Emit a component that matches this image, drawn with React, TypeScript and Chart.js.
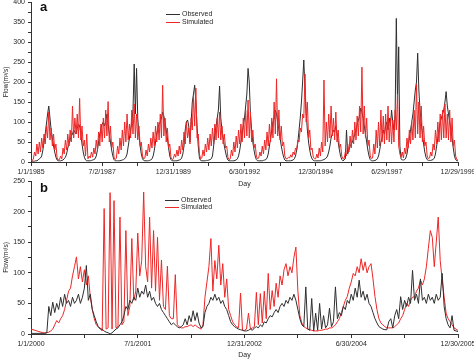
import React, { useEffect, useRef } from "react";
import { Chart, registerables } from "chart.js";

Chart.register(...registerables);

// ---------- Panel a: 1985-1999, semi-monthly readings (24 per year) ----------
const yearsA = [1985, 1986, 1987, 1988, 1989, 1990, 1991, 1992, 1993, 1994, 1995, 1996, 1997, 1998, 1999];
const observedA = [
  [2, 2, 2, 2, 3, 3, 5, 8, 10, 15, 30, 50, 70, 95, 120, 140, 110, 80, 60, 40, 25, 12, 5, 3],
  [3, 3, 4, 5, 8, 12, 20, 35, 45, 55, 65, 70, 80, 75, 70, 85, 95, 90, 70, 45, 25, 12, 5, 3],
  [3, 3, 3, 4, 5, 6, 8, 15, 30, 50, 70, 85, 95, 100, 90, 100, 120, 95, 70, 50, 30, 15, 6, 3],
  [3, 3, 3, 3, 4, 5, 6, 8, 12, 20, 40, 60, 80, 100, 130, 245, 120, 234, 110, 70, 40, 20, 8, 4],
  [3, 3, 3, 3, 4, 5, 8, 15, 30, 50, 70, 85, 95, 100, 110, 125, 115, 100, 80, 60, 35, 15, 6, 3],
  [3, 3, 3, 3, 4, 5, 6, 10, 20, 40, 80, 100, 105, 90, 50, 100, 150, 170, 192, 150, 90, 40, 10, 4],
  [3, 3, 3, 3, 4, 4, 5, 6, 8, 15, 40, 70, 90, 110, 130, 190, 110, 80, 60, 40, 25, 12, 5, 3],
  [3, 3, 3, 3, 4, 5, 8, 15, 30, 50, 70, 90, 110, 140, 170, 234, 200, 120, 80, 50, 30, 15, 6, 3],
  [3, 3, 3, 3, 4, 5, 6, 10, 20, 40, 60, 80, 100, 110, 130, 120, 100, 80, 60, 40, 25, 12, 5, 3],
  [3, 3, 3, 3, 4, 5, 8, 15, 30, 50, 80, 110, 150, 200, 255, 180, 120, 80, 50, 30, 15, 8, 4, 3],
  [3, 3, 3, 3, 3, 4, 5, 6, 8, 10, 15, 25, 40, 60, 70, 80, 75, 90, 70, 50, 30, 15, 6, 3],
  [5, 8, 80, 20, 30, 40, 45, 50, 60, 70, 80, 95, 105, 115, 135, 125, 110, 90, 70, 50, 30, 15, 6, 3],
  [3, 3, 4, 5, 8, 15, 30, 50, 60, 80, 70, 90, 100, 80, 110, 90, 130, 100, 80, 120, 359, 150, 288, 40],
  [8, 5, 5, 6, 10, 20, 40, 60, 80, 100, 120, 150, 180, 200, 272, 180, 130, 100, 70, 45, 25, 12, 6, 4],
  [4, 4, 5, 6, 10, 20, 40, 60, 80, 100, 110, 120, 130, 150, 176, 140, 120, 100, 80, 60, 35, 15, 6, 3],
];
const simulatedA = [
  [4, 3, 8, 25, 15, 45, 20, 50, 25, 60, 35, 70, 45, 90, 60, 125, 55, 85, 40, 70, 30, 45, 10, 5],
  [6, 15, 8, 35, 20, 55, 30, 70, 40, 80, 50, 140, 60, 110, 70, 120, 60, 159, 55, 90, 40, 55, 15, 70],
  [8, 15, 10, 25, 12, 35, 20, 55, 30, 75, 40, 95, 50, 110, 60, 130, 65, 151, 50, 90, 35, 50, 12, 6],
  [10, 40, 20, 60, 30, 80, 40, 100, 50, 120, 55, 95, 60, 130, 70, 145, 60, 120, 55, 90, 40, 50, 15, 8],
  [10, 30, 15, 45, 25, 60, 35, 75, 40, 90, 50, 100, 55, 120, 60, 192, 65, 110, 50, 85, 35, 45, 12, 6],
  [8, 20, 12, 30, 15, 40, 20, 55, 30, 75, 45, 100, 60, 85, 45, 110, 80, 165, 90, 185, 60, 70, 20, 8],
  [10, 30, 15, 45, 25, 60, 30, 70, 40, 85, 45, 95, 55, 110, 60, 125, 55, 90, 45, 70, 35, 40, 12, 6],
  [8, 30, 15, 50, 25, 65, 35, 80, 45, 95, 50, 110, 60, 130, 65, 155, 60, 125, 50, 80, 35, 45, 15, 8],
  [10, 25, 15, 40, 20, 55, 30, 75, 40, 95, 50, 110, 60, 150, 70, 208, 65, 130, 55, 90, 40, 50, 15, 8],
  [8, 12, 10, 18, 12, 25, 18, 35, 30, 55, 50, 85, 75, 120, 110, 220, 100, 150, 60, 80, 30, 35, 12, 8],
  [8, 20, 10, 35, 15, 50, 25, 205, 40, 100, 50, 120, 60, 140, 65, 110, 55, 125, 50, 80, 35, 45, 15, 8],
  [8, 25, 15, 45, 25, 65, 35, 80, 45, 100, 55, 115, 65, 140, 75, 237, 70, 140, 60, 110, 40, 55, 15, 8],
  [10, 45, 20, 80, 35, 100, 40, 130, 50, 115, 45, 120, 55, 140, 50, 110, 45, 105, 50, 130, 80, 170, 40, 20],
  [12, 25, 10, 35, 20, 60, 35, 80, 45, 100, 55, 130, 60, 195, 70, 150, 60, 140, 50, 90, 40, 50, 15, 8],
  [10, 25, 15, 45, 30, 80, 45, 100, 50, 120, 55, 130, 60, 145, 60, 120, 55, 130, 50, 110, 40, 55, 15, 6],
];
const observedAEnd = 3;
const simulatedAEnd = 5;
const xLabelsA = ["1/1/1985", "7/2/1987", "12/31/1989", "6/30/1992", "12/30/1994", "6/29/1997", "12/29/1999"];
const yTicksA = [0, 50, 100, 150, 200, 250, 300, 350, 400];

// ---------- Panel b: 2000-2005, ~10-day readings (36 per year) ----------
const yearsB = [2000, 2001, 2002, 2003, 2004, 2005];
const observedB = [
  [1, 1, 1, 1, 1, 1, 1, 1, 2, 45, 30, 52, 35, 50, 40, 60, 45, 65, 50, 55, 45, 60, 50, 55, 65, 50, 60, 75, 112, 55, 65, 40, 30, 20, 12, 8],
  [8, 5, 3, 2, 0, 2, 5, 8, 10, 15, 20, 30, 45, 40, 55, 50, 60, 55, 75, 60, 70, 65, 80, 60, 70, 55, 60, 50, 45, 50, 40, 35, 30, 25, 20, 15],
  [18, 15, 12, 10, 12, 15, 25, 15, 30, 20, 38, 22, 35, 18, 10, 12, 35, 45, 50, 60, 55, 65, 55, 60, 50, 55, 45, 40, 30, 20, 15, 12, 10, 8, 7, 6],
  [5, 5, 6, 8, 6, 10, 12, 10, 15, 12, 20, 18, 25, 30, 28, 35, 40, 35, 45, 50, 45, 55, 50, 60, 55, 65, 55, 40, 25, 15, 12, 77, 8, 6, 58, 5],
  [34, 6, 50, 8, 30, 10, 15, 42, 12, 20, 77, 25, 35, 30, 45, 40, 55, 50, 65, 55, 75, 60, 88, 60, 70, 55, 65, 50, 45, 35, 25, 18, 12, 10, 8, 7],
  [7, 20, 25, 10, 30, 40, 25, 61, 40, 55, 45, 60, 50, 104, 55, 65, 50, 90, 55, 60, 50, 65, 55, 60, 50, 65, 55, 60, 99, 45, 25, 15, 10, 30, 6, 5],
];
const simulatedB = [
  [8, 7, 6, 5, 4, 3, 2, 2, 2, 3, 5, 8, 15, 22, 18, 25, 30, 40, 55, 70, 75, 95, 110, 126, 90, 110, 85, 105, 80, 95, 60, 40, 25, 15, 12, 10],
  [5, 205, 8, 10, 231, 8, 218, 10, 12, 191, 15, 20, 169, 30, 45, 156, 55, 70, 165, 95, 120, 232, 110, 85, 191, 75, 169, 70, 158, 55, 121, 45, 40, 111, 30, 25],
  [25, 97, 15, 12, 10, 10, 12, 12, 14, 15, 12, 15, 12, 10, 8, 15, 60, 85, 110, 156, 70, 120, 90, 145, 80, 115, 60, 90, 40, 30, 20, 15, 12, 10, 67, 6],
  [6, 8, 34, 8, 10, 12, 68, 15, 66, 18, 70, 25, 99, 40, 71, 45, 83, 60, 95, 80, 105, 115, 95, 110, 100, 125, 142, 70, 30, 18, 12, 10, 8, 7, 6, 5],
  [5, 5, 6, 6, 7, 8, 8, 10, 10, 12, 15, 20, 25, 35, 45, 55, 61, 75, 85, 99, 95, 110, 100, 123, 104, 118, 100, 110, 115, 90, 61, 40, 25, 18, 15, 12],
  [10, 10, 10, 10, 12, 15, 18, 25, 30, 40, 50, 45, 55, 60, 61, 70, 75, 88, 80, 90, 110, 140, 169, 158, 110, 150, 191, 120, 88, 60, 34, 25, 20, 15, 10, 8],
];
const observedBEnd = 4;
const simulatedBEnd = 6;
const xLabelsB = ["1/1/2000", "7/1/2001", "12/31/2002", "6/30/2004", "12/30/2005"];
const yTicksB = [0, 50, 100, 150, 200, 250];

const seriesNames = ["Observed", "Simulated"];
const OBS_COLOR = "#2e2e2e";
const SIM_COLOR = "#ee2626";
const FONT = "'Liberation Sans', Arial, sans-serif";
const TEXT = "#262626";

type Pt = { x: number; y: number };
function toPoints(rows: number[][], perYear: number, endValue: number): Pt[] {
  const pts: Pt[] = [];
  rows.forEach((row, yi) => row.forEach((v, i) => pts.push({ x: yi + i / perYear, y: v })));
  pts.push({ x: rows.length, y: endValue });
  return pts;
}

type PanelCfg = {
  years: number[];
  obs: number[][];
  sim: number[][];
  obsEnd: number;
  simEnd: number;
  perYear: number;
  xLabels: string[];
  yTicks: number[];
  letter: string;
  letterY: number;
  legendX: number;
  legendY: number;
  legendGap: number;
  padTop: number;
  xHeight: number;
  dayPad: number;
  simOnTop: boolean;
};

function Panel({ cfg, top, height }: { cfg: PanelCfg; top: number; height: number }) {
  const ref = useRef<HTMLCanvasElement>(null);
  useEffect(() => {
    const canvas = ref.current!;
    const nYears = cfg.years.length;
    const majorStep = nYears / (cfg.xLabels.length - 1);
    const yMax = cfg.yTicks[cfg.yTicks.length - 1];
    const overlay = {
      id: "overlay" + cfg.letter,
      afterDraw(chart: any) {
        const ctx = chart.ctx as CanvasRenderingContext2D;
        ctx.save();
        ctx.fillStyle = "#111";
        ctx.font = `bold 13px ${FONT}`;
        ctx.textBaseline = "alphabetic";
        ctx.textAlign = "left";
        ctx.fillText(cfg.letter, chart.chartArea.left + 9, cfg.letterY);
        const colors = [OBS_COLOR, SIM_COLOR];
        ctx.font = `7px ${FONT}`;
        ctx.textBaseline = "middle";
        seriesNames.forEach((name, k) => {
          const y = cfg.legendY + k * cfg.legendGap;
          ctx.strokeStyle = colors[k];
          ctx.lineWidth = 1;
          ctx.beginPath();
          ctx.moveTo(cfg.legendX, y + 0.5);
          ctx.lineTo(cfg.legendX + 14, y + 0.5);
          ctx.stroke();
          ctx.fillStyle = TEXT;
          ctx.fillText(name, cfg.legendX + 16, y + 0.5);
        });
        ctx.restore();
      },
    };
    const obsDs = {
      label: seriesNames[0],
      data: toPoints(cfg.obs, cfg.perYear, cfg.obsEnd),
      borderColor: OBS_COLOR,
      borderWidth: 1,
      pointRadius: 0,
      order: cfg.simOnTop ? 1 : 0,
    };
    const simDs = {
      label: seriesNames[1],
      data: toPoints(cfg.sim, cfg.perYear, cfg.simEnd),
      borderColor: SIM_COLOR,
      borderWidth: 1,
      pointRadius: 0,
      order: cfg.simOnTop ? 0 : 1,
    };
    const chart = new Chart(canvas, {
      type: "line",
      data: { datasets: [obsDs, simDs] as any },
      options: {
        animation: false,
        responsive: false,
        maintainAspectRatio: false,
        layout: { padding: { top: cfg.padTop, right: 16, left: 0, bottom: 0 } },
        plugins: { legend: { display: false }, tooltip: { enabled: false } },
        elements: { line: { tension: 0 } },
        scales: {
          x: {
            type: "linear",
            min: 0,
            max: nYears,
            border: { display: true, color: "#333", width: 1 },
            grid: { drawOnChartArea: false, drawTicks: true, tickLength: 4, color: "#333" },
            afterBuildTicks: (scale: any) => {
              const t = [];
              const n = (cfg.xLabels.length - 1) * 2;
              for (let k = 0; k <= n; k++) t.push({ value: (k * majorStep) / 2 });
              scale.ticks = t;
            },
            afterFit: (scale: any) => {
              scale.height = cfg.xHeight;
              scale.paddingLeft = 0;
              scale.paddingRight = 0;
            },
            ticks: {
              autoSkip: false,
              maxRotation: 0,
              minRotation: 0,
              padding: 2,
              color: TEXT,
              font: { size: 7, family: FONT },
              callback: (_v: any, i: number) => (i % 2 === 0 ? cfg.xLabels[i / 2] : ""),
            },
            title: {
              display: true,
              text: "Day",
              color: TEXT,
              font: { size: 7, family: FONT },
              padding: { top: 0, bottom: cfg.dayPad },
            },
          },
          y: {
            type: "linear",
            min: 0,
            max: yMax,
            border: { display: true, color: "#333", width: 1 },
            grid: { drawOnChartArea: false, drawTicks: true, tickLength: 3, color: "#333" },
            afterBuildTicks: (scale: any) => {
              const t = [];
              for (let v = 0; v <= yMax; v += 25) t.push({ value: v });
              scale.ticks = t;
            },
            afterFit: (scale: any) => {
              scale.width = 31;
              scale.paddingTop = 0;
              scale.paddingBottom = 0;
            },
            ticks: {
              autoSkip: false,
              padding: 3,
              color: TEXT,
              font: { size: 7, family: FONT },
              callback: (v: any) => (cfg.yTicks.includes(v) ? String(v) : ""),
            },
            title: {
              display: true,
              text: "Flow(m³/s)",
              color: TEXT,
              font: { size: 6.5, family: FONT },
              padding: { top: 2, bottom: 0 },
            },
          },
        },
      },
      plugins: [overlay],
    } as any);
    return () => chart.destroy();
  }, [cfg]);
  return (
    <canvas
      ref={ref}
      width={474}
      height={height}
      style={{ position: "absolute", left: 0, top, width: 474, height }}
    />
  );
}

const cfgA: PanelCfg = {
  years: yearsA,
  obs: observedA,
  sim: simulatedA,
  obsEnd: observedAEnd,
  simEnd: simulatedAEnd,
  perYear: 24,
  xLabels: xLabelsA,
  yTicks: yTicksA,
  letter: "a",
  letterY: 11,
  legendX: 166,
  legendY: 14,
  legendGap: 8,
  padTop: 2,
  xHeight: 30,
  dayPad: 4,
  simOnTop: true,
};

const cfgB: PanelCfg = {
  years: yearsB,
  obs: observedB,
  sim: simulatedB,
  obsEnd: observedBEnd,
  simEnd: simulatedBEnd,
  perYear: 36,
  xLabels: xLabelsB,
  yTicks: yTicksB,
  letter: "b",
  letterY: 22,
  legendX: 165,
  legendY: 30,
  legendGap: 7,
  padTop: 11,
  xHeight: 25,
  dayPad: 0,
  simOnTop: false,
};

export default function App() {
  return (
    <div style={{ position: "absolute", left: 0, top: 0, width: 474, height: 359, background: "#fff" }}>
      <Panel cfg={cfgA} top={0} height={192} />
      <Panel cfg={cfgB} top={170} height={189} />
    </div>
  );
}
